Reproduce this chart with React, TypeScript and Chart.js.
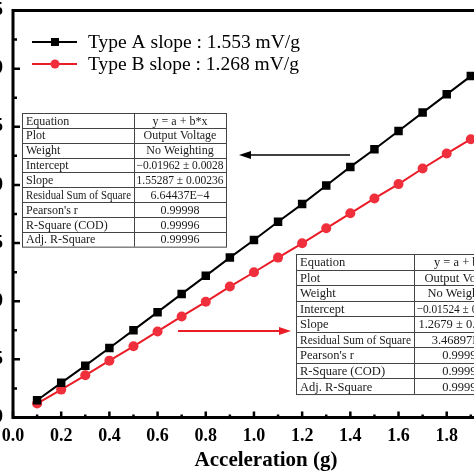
import { useEffect, useRef } from "react";
import { Chart, registerables } from "chart.js";

Chart.register(...registerables);

// Output voltage (V) against applied acceleration (g) for the two sensor types
const acceleration = [0.1, 0.2, 0.3, 0.4, 0.5, 0.6, 0.7, 0.8, 0.9, 1.0, 1.1, 1.2, 1.3, 1.4, 1.5, 1.6, 1.7, 1.8, 1.9, 2.0];
const typeA = [0.148, 0.298, 0.446, 0.598, 0.751, 0.906, 1.063, 1.218, 1.375, 1.527, 1.684, 1.835, 1.995, 2.155, 2.307, 2.464, 2.622, 2.779, 2.936, 3.09];
const typeB = [0.12, 0.24, 0.363, 0.489, 0.612, 0.74, 0.869, 0.995, 1.126, 1.249, 1.375, 1.498, 1.627, 1.756, 1.884, 2.007, 2.141, 2.27, 2.393, 2.52];

const xTickValues = [0, 0.2, 0.4, 0.6, 0.8, 1.0, 1.2, 1.4, 1.6, 1.8, 2.0];
const legendLabels = ["Type A slope : 1.553 mV/g", "Type B slope : 1.268 mV/g"];

// Linear fit reports
const fitRowNames = ["Equation", "Plot", "Weight", "Intercept", "Slope", "Residual Sum of Square", "Pearson's r", "R-Square (COD)", "Adj. R-Square"];
const fitA = ["y = a + b*x", "Output Voltage", "No Weighting", "\u22120.01962 \u00b1 0.0028", "1.55287 \u00b1 0.00236", "6.64437E\u22124", "0.99998", "0.99996", "0.99996"];
const fitB = ["y = a + b*x", "Output Voltage", "No Weighting", "\u22120.01524 \u00b1 0.00192", "1.2679 \u00b1 0.00161", "3.46897E\u22124", "0.99998", "0.99996", "0.99996"];

const RED = "#ea1c26";
const RED_MARK = "#ef2f3b";
const SHIFT = 40; // canvas is placed this far left of the page edge
const SERIF = "'Liberation Serif', 'Times New Roman', serif";

function drawTable(ctx: CanvasRenderingContext2D, x: number, y: number, w1: number, w2: number, rowH: number, right: string[], fontSize: number) {
  const h = rowH * fitRowNames.length;
  ctx.fillStyle = "#fff";
  ctx.fillRect(x, y, w1 + w2, h);
  ctx.strokeStyle = "#444";
  ctx.lineWidth = 1;
  ctx.strokeRect(x + 0.5, y + 0.5, w1 + w2, h);
  ctx.beginPath();
  ctx.moveTo(x + w1 + 0.5, y);
  ctx.lineTo(x + w1 + 0.5, y + h);
  for (let i = 1; i < fitRowNames.length; i++) {
    const ry = Math.round(y + i * rowH) + 0.5;
    ctx.moveTo(x, ry);
    ctx.lineTo(x + w1 + w2, ry);
  }
  ctx.stroke();
  ctx.fillStyle = "#1a1a1a";
  ctx.font = `${fontSize}px ${SERIF}`;
  ctx.textBaseline = "middle";
  fitRowNames.forEach((name, i) => {
    const cy = y + i * rowH + rowH / 2 + 1;
    ctx.textAlign = "left";
    ctx.fillText(name, x + 4, cy, w1 - 7);
    ctx.textAlign = "center";
    ctx.fillText(right[i], x + w1 + w2 / 2, cy, w2 - 5);
  });
}

const decor = {
  id: "decor",
  afterDraw(chart: any) {
    const { ctx, chartArea: a, scales } = chart;
    const xs = scales.x;
    const ys = scales.y;
    ctx.save();

    // inward tick marks
    ctx.strokeStyle = "#000";
    ctx.lineWidth = 2.5;
    ctx.beginPath();
    for (let i = 0; i <= 21; i++) {
      const px = xs.getPixelForValue(i / 10);
      const len = i % 2 === 0 ? 6 : 3;
      ctx.moveTo(px, a.bottom);
      ctx.lineTo(px, a.bottom - len);
    }
    for (let i = 0; i <= 14; i++) {
      const py = ys.getPixelForValue(i * 0.25);
      const len = i % 2 === 0 ? 7 : 4;
      ctx.moveTo(a.left, py);
      ctx.lineTo(a.left + len, py);
    }
    ctx.stroke();

    // frame
    ctx.lineWidth = 3;
    ctx.strokeRect(a.left, a.top, a.right - a.left, a.bottom - a.top);

    ctx.translate(SHIFT, 0);

    // legend
    const rows = [
      { y: 42, color: "#000", mark: "rect" },
      { y: 64, color: RED, mark: "circle" },
    ];
    rows.forEach((r, i) => {
      ctx.strokeStyle = r.color;
      ctx.lineWidth = 2;
      ctx.beginPath();
      ctx.moveTo(32, r.y);
      ctx.lineTo(77, r.y);
      ctx.stroke();
      if (r.mark === "rect") {
        ctx.fillStyle = "#000";
        ctx.fillRect(51, r.y - 4, 8, 8);
      } else {
        ctx.fillStyle = RED_MARK;
        ctx.beginPath();
        ctx.arc(55, r.y, 4.5, 0, Math.PI * 2);
        ctx.fill();
      }
      ctx.fillStyle = "#000";
      ctx.font = `19.5px ${SERIF}`;
      ctx.textAlign = "left";
      ctx.textBaseline = "middle";
      ctx.fillText(legendLabels[i], 88, r.y + 1);
    });

    // fit tables
    drawTable(ctx, 22, 113, 112, 92, 14.85, fitA, 12);
    drawTable(ctx, 296, 254, 118, 97, 15.56, fitB, 12.5);

    // arrows pointing from each curve to its table
    ctx.strokeStyle = "#000";
    ctx.fillStyle = "#000";
    ctx.lineWidth = 1.5;
    ctx.beginPath();
    ctx.moveTo(248, 155);
    ctx.lineTo(350, 155);
    ctx.stroke();
    ctx.beginPath();
    ctx.moveTo(239, 155);
    ctx.lineTo(251, 151);
    ctx.lineTo(251, 159);
    ctx.closePath();
    ctx.fill();

    ctx.strokeStyle = RED;
    ctx.fillStyle = RED;
    ctx.lineWidth = 2;
    ctx.beginPath();
    ctx.moveTo(178, 331);
    ctx.lineTo(282, 331);
    ctx.stroke();
    ctx.beginPath();
    ctx.moveTo(291, 331);
    ctx.lineTo(279, 327);
    ctx.lineTo(279, 335);
    ctx.closePath();
    ctx.fill();

    ctx.restore();
  },
};

export default function App() {
  const ref = useRef<HTMLCanvasElement | null>(null);

  useEffect(() => {
    if (!ref.current) return;
    const tickFont = { family: SERIF, size: 18, weight: "bold" as const };
    const chart = new Chart(ref.current, {
      type: "line",
      data: {
        datasets: [
          {
            label: "Type A",
            data: acceleration.map((v, i) => ({ x: v, y: typeA[i] })),
            borderColor: "#000",
            borderWidth: 2,
            pointStyle: "rect",
            pointRadius: 6,
            pointBackgroundColor: "#000",
            pointBorderWidth: 0,
          },
          {
            label: "Type B",
            data: acceleration.map((v, i) => ({ x: v, y: typeB[i] })),
            borderColor: RED,
            borderWidth: 2,
            pointStyle: "circle",
            pointRadius: 5,
            pointBackgroundColor: RED_MARK,
            pointBorderWidth: 0,
          },
        ],
      },
      options: {
        responsive: false,
        animation: false,
        devicePixelRatio: 1,
        layout: { padding: { top: 10.5, left: 0, right: 41, bottom: 0 } },
        plugins: { legend: { display: false }, tooltip: { enabled: false } },
        scales: {
          x: {
            type: "linear",
            min: 0,
            max: 2.1,
            grid: { display: false, drawTicks: false },
            border: { display: false },
            afterBuildTicks: (s: any) => {
              s.ticks = xTickValues.map((v) => ({ value: v }));
            },
            afterFit: (s: any) => {
              s.height = 56.5;
              s.paddingLeft = 0;
              s.paddingRight = 0;
            },
            ticks: {
              color: "#000",
              font: tickFont,
              padding: 8,
              maxRotation: 0,
              autoSkip: false,
              callback: (v: any) => Number(v).toFixed(1),
            },
            title: {
              display: true,
              text: "Acceleration (g)",
              color: "#000",
              font: { family: SERIF, size: 21, weight: "bold" },
              padding: { top: 0, bottom: 1 },
            },
          },
          y: {
            type: "linear",
            min: 0,
            max: 3.5,
            grid: { display: false, drawTicks: false },
            border: { display: false },
            afterFit: (s: any) => {
              s.width = 53;
              s.paddingTop = 0;
              s.paddingBottom = 0;
            },
            ticks: {
              stepSize: 0.5,
              color: "#000",
              font: tickFont,
              padding: 10,
              callback: (v: any) => Number(v).toFixed(1),
            },
          },
        },
      },
      plugins: [decor],
    });
    return () => chart.destroy();
  }, []);

  return (
    <div style={{ position: "fixed", left: 0, top: 0, width: 474, height: 474, overflow: "hidden", background: "#fff" }}>
      <canvas ref={ref} width={600} height={474} style={{ position: "absolute", left: -SHIFT, top: 0 }} />
    </div>
  );
}
